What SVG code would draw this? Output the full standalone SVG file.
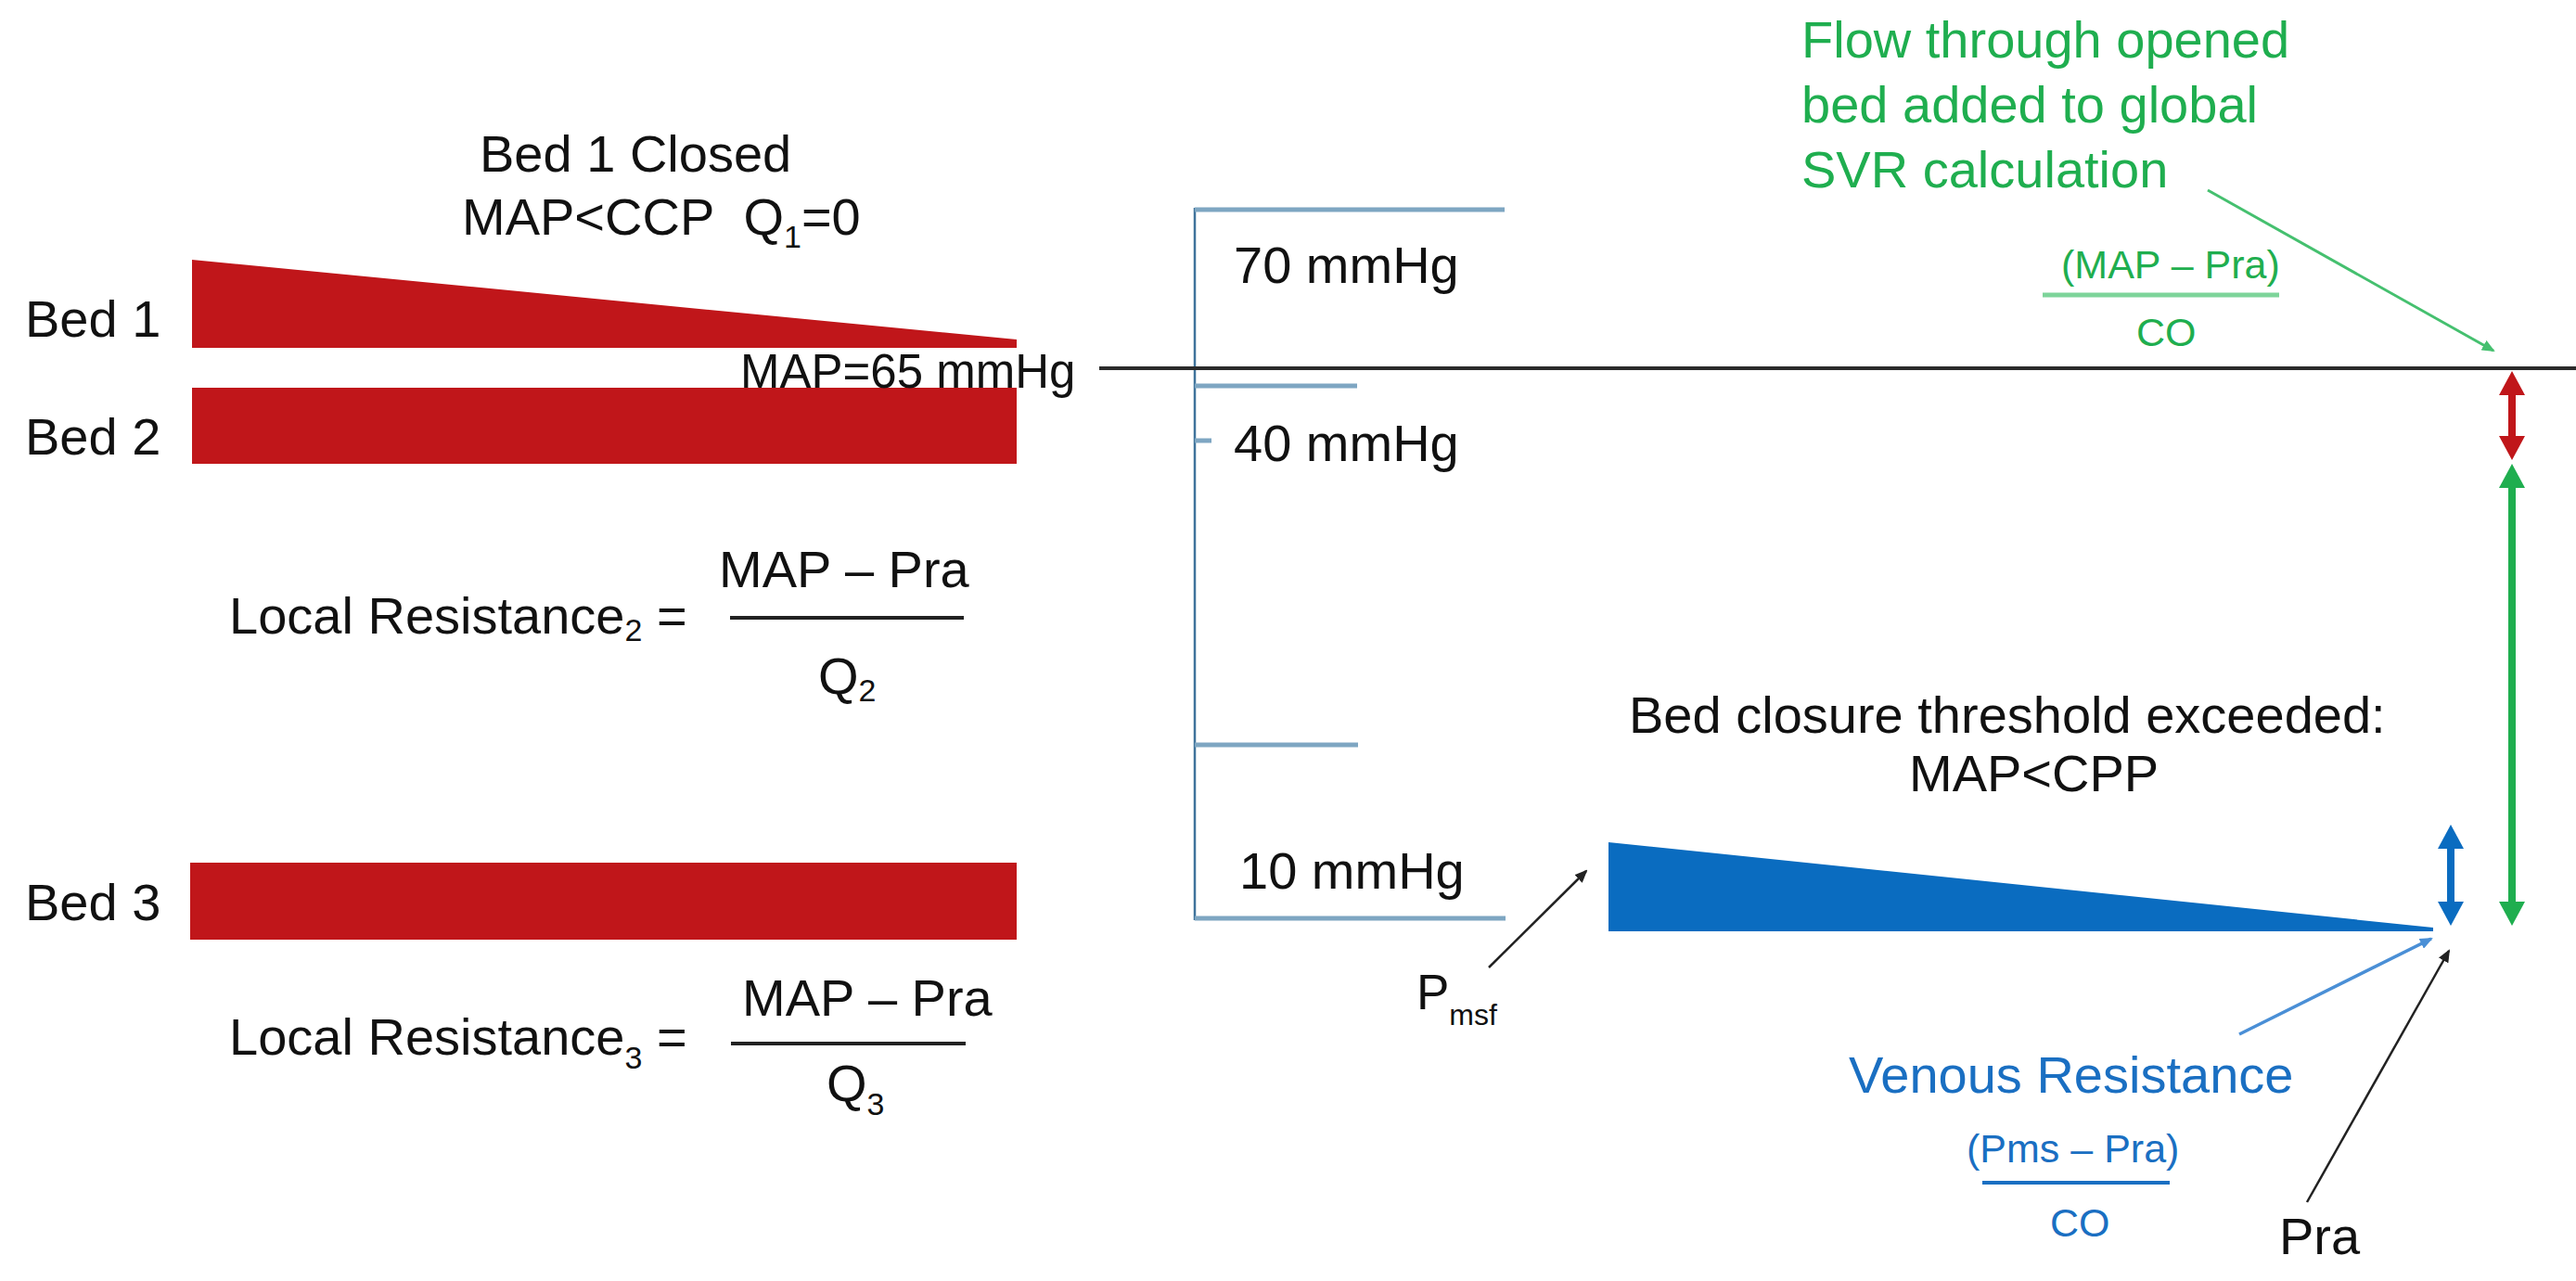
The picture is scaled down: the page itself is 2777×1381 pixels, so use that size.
<svg xmlns="http://www.w3.org/2000/svg" width="2777" height="1381" viewBox="0 0 2777 1381">
<style>
text{font-family:"Liberation Sans",Arial,Helvetica,sans-serif;fill:#111}
.l{font-size:56px}
.s{font-size:43px}
.sub{font-size:34px}
.red{fill:#c0161a}
.blue{fill:#0a6cc0}
text.gt{fill:#1fae4f}
text.bt{fill:#1a6fc2}
.tick{stroke:#7ea6c2;stroke-width:5}
.axis{stroke:#3f739b;stroke-width:2.5}
.frac{stroke:#222;stroke-width:4}
</style>
<defs>
<marker id="hRed" viewBox="0 0 26 28" refX="0" refY="14" markerWidth="26" markerHeight="28" markerUnits="userSpaceOnUse" orient="auto-start-reverse"><path d="M0,0 L26,14 L0,28 z" fill="#c0161a"/></marker>
<marker id="hGreen" viewBox="0 0 26 28" refX="0" refY="14" markerWidth="26" markerHeight="28" markerUnits="userSpaceOnUse" orient="auto-start-reverse"><path d="M0,0 L26,14 L0,28 z" fill="#1fae4f"/></marker>
<marker id="hBlue" viewBox="0 0 26 28" refX="0" refY="14" markerWidth="26" markerHeight="28" markerUnits="userSpaceOnUse" orient="auto-start-reverse"><path d="M0,0 L26,14 L0,28 z" fill="#0a6cc0"/></marker>
<marker id="pGreen" viewBox="0 0 14 12" refX="12" refY="6" markerWidth="14" markerHeight="12" markerUnits="userSpaceOnUse" orient="auto"><path d="M0,0 L14,6 L0,12 z" fill="#45c06f"/></marker>
<marker id="pBlack" viewBox="0 0 14 12" refX="12" refY="6" markerWidth="14" markerHeight="12" markerUnits="userSpaceOnUse" orient="auto"><path d="M0,0 L14,6 L0,12 z" fill="#222"/></marker>
<marker id="pBlue" viewBox="0 0 14 12" refX="12" refY="6" markerWidth="14" markerHeight="12" markerUnits="userSpaceOnUse" orient="auto"><path d="M0,0 L14,6 L0,12 z" fill="#4a8fd6"/></marker>
</defs>
<rect width="2777" height="1381" fill="#ffffff"/>

<g id="bed1-closed-note">
<text class="l" x="517" y="185">Bed 1 Closed</text>
<text class="l" x="498" y="253">MAP&lt;CCP&#160; Q<tspan class="sub" dy="14">1</tspan><tspan dy="-14">=0</tspan></text>
</g>
<g id="bed1-label"><text class="l" x="27" y="363">Bed 1</text></g>
<g id="bed1"><polygon class="red" points="207,280 1096,366 1096,375 207,375"/></g>
<g id="bed2-label"><text class="l" x="27" y="490">Bed 2</text></g>
<g id="bed2"><rect class="red" x="207" y="418" width="889" height="82"/></g>
<g id="map-label"><text x="798" y="418" style="font-size:51px">MAP=65 mmHg</text></g>

<g id="formula2">
<text class="l" x="247" y="683">Local Resistance<tspan class="sub" dy="8">2</tspan><tspan dy="-8"> =</tspan></text>
<text class="l" x="775" y="633">MAP – Pra</text>
<line class="frac" x1="787" y1="666" x2="1039" y2="666"/>
<text class="l" x="882" y="748">Q<tspan class="sub" dy="8">2</tspan></text>
</g>

<g id="bed3-label"><text class="l" x="27" y="992">Bed 3</text></g>
<g id="bed3"><rect class="red" x="205" y="930" width="891" height="83"/></g>

<g id="formula3">
<text class="l" x="247" y="1137">Local Resistance<tspan class="sub" dy="15">3</tspan><tspan dy="-15"> =</tspan></text>
<text class="l" x="800" y="1095">MAP – Pra</text>
<line class="frac" x1="788" y1="1125" x2="1041" y2="1125"/>
<text class="l" x="891" y="1187">Q<tspan class="sub" dy="15">3</tspan></text>
</g>

<g id="pressure-axis">
<line class="axis" x1="1288" y1="224" x2="1288" y2="992"/>
<line class="tick" x1="1288" y1="226" x2="1622" y2="226"/>
<line class="tick" x1="1288" y1="416" x2="1463" y2="416"/>
<line class="tick" x1="1288" y1="475" x2="1306" y2="475"/>
<line class="tick" x1="1288" y1="803" x2="1464" y2="803"/>
<line class="tick" x1="1288" y1="990" x2="1623" y2="990"/>
<text class="l" x="1330" y="305">70 mmHg</text>
<text class="l" x="1330" y="497">40 mmHg</text>
<text class="l" x="1336" y="958">10 mmHg</text>
</g>

<g id="map-line"><line x1="1185" y1="397" x2="2777" y2="397" stroke="#2b2b2b" stroke-width="4"/></g>

<g id="svr-note">
<text class="l gt" x="1942" y="62">Flow through opened</text>
<text class="l gt" x="1942" y="132">bed added to global</text>
<text class="l gt" x="1942" y="202">SVR calculation</text>
</g>
<g id="svr-formula">
<text class="s gt" x="2222" y="300">(MAP – Pra)</text>
<line x1="2202" y1="318" x2="2457" y2="318" stroke="#7dd49a" stroke-width="5"/>
<text class="s gt" x="2303" y="373">CO</text>
</g>

<g id="closure-note">
<text class="l" x="1756" y="790">Bed closure threshold exceeded:</text>
<text class="l" x="2058" y="853">MAP&lt;CPP</text>
</g>

<g id="venous-bed"><polygon class="blue" points="1734,908 2623,1000 2623,1004 1734,1004"/></g>

<g id="pmsf-label"><text x="1527" y="1088" style="font-size:53px">P<tspan style="font-size:32px" dy="17">msf</tspan></text></g>

<g id="venous-resistance">
<text class="l bt" x="1993" y="1178">Venous Resistance</text>
<text class="s bt" x="2120" y="1253">(Pms – Pra)</text>
<line x1="2137" y1="1275" x2="2339" y2="1275" stroke="#1a6fc2" stroke-width="4"/>
<text class="s bt" x="2210" y="1333">CO</text>
</g>

<g id="pra-label"><text class="l" x="2457" y="1352">Pra</text></g>

<g id="connectors" fill="none">
<line x1="2380" y1="205" x2="2688" y2="378" stroke="#45c06f" stroke-width="3" marker-end="url(#pGreen)"/>
<line x1="1605" y1="1043" x2="1710" y2="939" stroke="#222" stroke-width="2.5" marker-end="url(#pBlack)"/>
<line x1="2414" y1="1115" x2="2621" y2="1012" stroke="#4a8fd6" stroke-width="3.5" marker-end="url(#pBlue)"/>
<line x1="2487" y1="1296" x2="2640" y2="1025" stroke="#222" stroke-width="2.5" marker-end="url(#pBlack)"/>
<line x1="2708" y1="426" x2="2708" y2="470" stroke="#c0161a" stroke-width="8" marker-start="url(#hRed)" marker-end="url(#hRed)"/>
<line x1="2708" y1="526" x2="2708" y2="972" stroke="#1fae4f" stroke-width="8" marker-start="url(#hGreen)" marker-end="url(#hGreen)"/>
<line x1="2642" y1="915" x2="2642" y2="972" stroke="#0a6cc0" stroke-width="8" marker-start="url(#hBlue)" marker-end="url(#hBlue)"/>
</g>
</svg>
